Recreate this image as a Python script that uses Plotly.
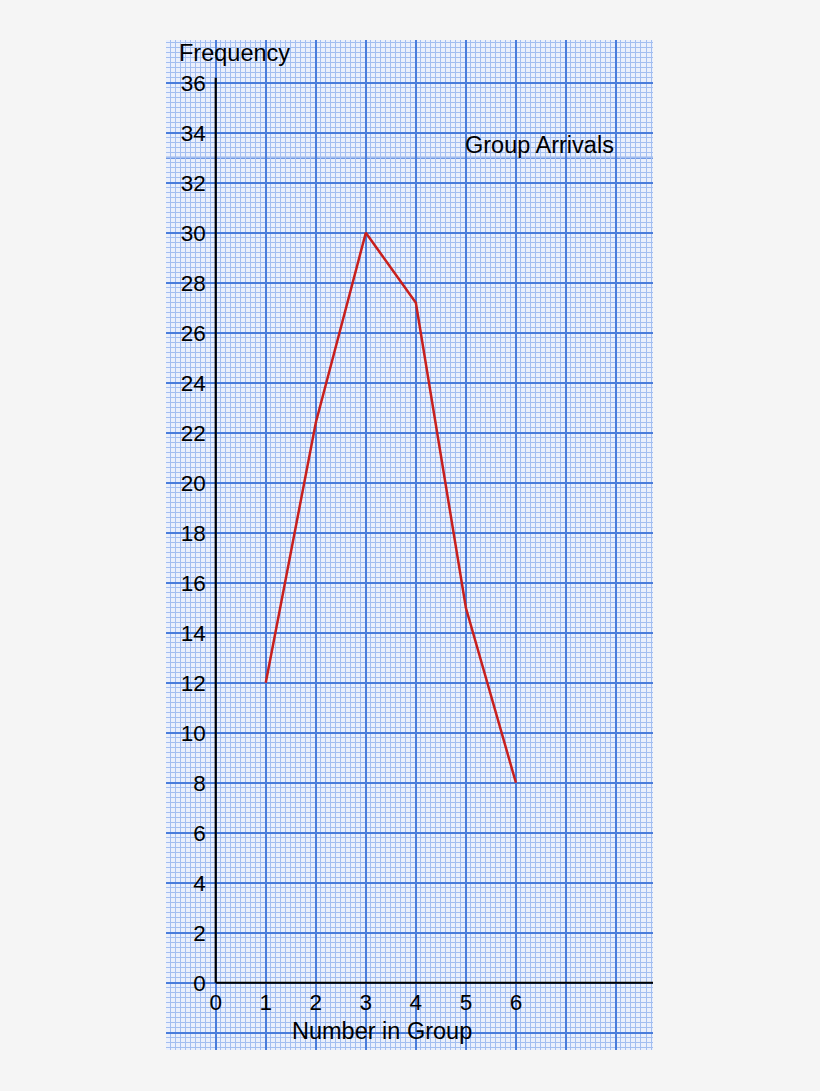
import plotly.graph_objects as go

# ---- data ----
group_sizes = [1, 2, 3, 4, 5, 6]
frequency = [12, 22.4, 30, 27.2, 15, 8]

x_tick_vals = [-1, 0, 1, 2, 3, 4, 5, 6, 7, 8]
x_tick_text = ["", "0", "1", "2", "3", "4", "5", "6", "", ""]
y_tick_vals = list(range(-2, 38, 2))
y_tick_text = ["" if v < 0 else str(v) for v in y_tick_vals]

x_title = "Number in Group"
y_title = "Frequency"
chart_title = "Group Arrivals"

# ---- style ----
FONT = "Liberation Sans, Arial, sans-serif"
MAJOR = "#4a7ddb"
MINOR = "#a3bef0"
CELL = "#ebf0fc"
PAGE = "#f5f5f5"

x_range = [-0.994, 8.74]
y_range = [-2.69, 37.71]

ypos = (0 - x_range[0]) / (x_range[1] - x_range[0])
xpos = (0 - y_range[0]) / (y_range[1] - y_range[0])

fig = go.Figure()
fig.add_trace(go.Scatter(
    x=group_sizes, y=frequency, mode="lines",
    line=dict(color="#c8201e", width=2.5),
    hoverinfo="skip", showlegend=False,
))

fig.update_layout(
    width=820, height=1091,
    margin=dict(l=166, r=167, t=40, b=41),
    paper_bgcolor=PAGE, plot_bgcolor=CELL,
    font=dict(family=FONT, color="black", size=23),
    showlegend=False,
)

fig.update_xaxes(
    range=x_range, tickmode="array", tickvals=x_tick_vals, ticktext=x_tick_text,
    showgrid=True, gridcolor=MAJOR, gridwidth=2,
    minor=dict(dtick=0.1, showgrid=True, gridcolor=MINOR, gridwidth=1.2),
    zeroline=False, showline=False, ticks="",
    anchor="free", position=xpos,
    tickfont=dict(size=22.5, family=FONT, color="black"),
    ticklabelstandoff=4,
)
fig.update_yaxes(
    range=y_range, tickmode="array", tickvals=y_tick_vals, ticktext=y_tick_text,
    showgrid=True, gridcolor=MAJOR, gridwidth=2,
    minor=dict(dtick=0.2, showgrid=True, gridcolor=MINOR, gridwidth=1.2),
    zeroline=False, showline=False, ticks="",
    anchor="free", position=ypos,
    tickfont=dict(size=22.5, family=FONT, color="black"),
    ticklabelstandoff=10,
)

# extra printed line on the paper and the drawn axes
fig.add_shape(type="line", xref="paper", yref="y", x0=0, x1=1, y0=33, y1=33,
              line=dict(color=MAJOR, width=2), layer="below")
fig.add_shape(type="line", xref="x", yref="y", x0=0, x1=0, y0=0, y1=36.2,
              line=dict(color="black", width=2.2))
fig.add_shape(type="line", xref="x", yref="y", x0=0, x1=x_range[1], y0=0, y1=0,
              line=dict(color="black", width=2.2))

fig.add_annotation(text=y_title, x=-0.78, y=37.18, xref="x", yref="y",
                   xanchor="left", yanchor="middle", showarrow=False,
                   font=dict(size=23.5, family=FONT, color="black"))
fig.add_annotation(text=chart_title, x=4.94, y=33.5, xref="x", yref="y",
                   xanchor="left", yanchor="middle", showarrow=False,
                   font=dict(size=23.5, family=FONT, color="black"))
fig.add_annotation(text=x_title, x=3.33, y=-1.92, xref="x", yref="y",
                   xanchor="center", yanchor="middle", showarrow=False,
                   font=dict(size=23.5, family=FONT, color="black"))

fig.write_html(
    "out.html",
    config={"displayModeBar": False},
    post_script="document.body.style.margin='0';document.body.style.background='%s';" % PAGE,
)
